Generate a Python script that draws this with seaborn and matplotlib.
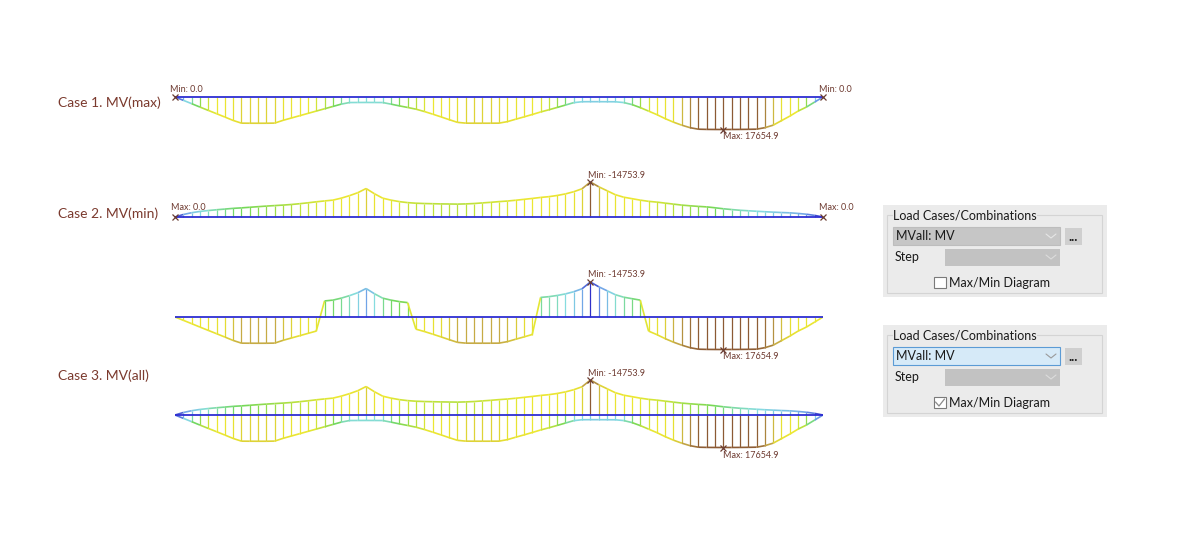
import numpy as np
import matplotlib
matplotlib.use("Agg")
import matplotlib.pyplot as plt
import seaborn as sns
from matplotlib.colors import LinearSegmentedColormap
from matplotlib.collections import LineCollection
from matplotlib.patches import Rectangle

sns.set_theme(style="white")
plt.rcParams['font.family'] = ['Lato', 'DejaVu Sans']


# 1. DATA

# stations along the beam (one hatch line per station)
station = list(range(79))

# Case 1. MV(max) - sagging envelope
mv_max = [0, 1800, 3610, 5470, 7270, 9070, 10880, 12740, 14210, 14240,
          14260, 14250, 14180, 12680, 11420, 10170, 8910, 7650, 6400, 5140,
          3880, 3010, 2980, 2960, 2980, 3010, 3880, 4810, 5680, 6610,
          7870, 9290, 10770, 12300, 13770, 14200, 14230, 14240, 14230, 14200,
          13390, 12080, 10820, 9510, 8150, 6940, 5680, 4370, 3060, 2570,
          2540, 2550, 2570, 2600, 3010, 4100, 5740, 7650, 9570, 11750,
          13670, 15300, 16670, 17490, 17600, 17640, 17654.9, 17640, 17610, 17560,
          17480, 16670, 15300, 12850, 10390, 7650, 5470, 2730, 0]

# Case 2. MV(min) - hogging envelope
mv_min = [0, -1050, -1800, -2340, -2720, -3050, -3340, -3640, -3850, -4100,
          -4350, -4600, -4810, -5020, -5270, -5600, -5980, -6400, -6770, -7110,
          -7940, -8990, -10240, -12000, -9820, -7940, -7110, -6480, -6060, -5810,
          -5680, -5600, -5520, -5480, -5430, -5520, -5680, -5940, -6190, -6480,
          -6730, -7060, -7440, -7820, -8240, -8570, -9070, -9740, -10660, -11910,
          -14753.9, -12750, -11080, -9400, -8360, -7730, -7110, -6600, -6270, -5850,
          -5430, -5020, -4720, -4470, -4260, -3890, -3470, -3140, -2840, -2630,
          -2420, -2220, -2050, -1880, -1760, -1500, -1170, -670, 0]

case_labels = ["Case 1. MV(max)", "Case 2. MV(min)", "Case 3. MV(all)"]
combo_text = "MVall: MV"

x = np.array(station, dtype=float)
vmax = np.array(mv_max, dtype=float)
vmin = np.array(mv_min, dtype=float)
# single diagram: the governing value at each station
vall = np.where(np.abs(vmax) >= np.abs(vmin), vmax, vmin)

pmax = vmax.max()
nmax = -vmin.min()
i_max = int(vmax.argmax())
i_min = int(vmin.argmin())


# 2. STYLE

cmap = LinearSegmentedColormap.from_list("mv", [
    (0.00, '#3030c8'), (0.08, '#6f9fe8'), (0.16, '#86dce0'), (0.26, '#72d85a'),
    (0.38, '#bfe23c'), (0.50, '#ece832'), (0.78, '#e6e032'), (0.90, '#c4a846'),
    (1.00, '#8c5a34')])

BLUE = '#2e2ed2'
LBL = '#6e3a30'
P_PX, N_PX = 32.5, 35.0   # drawn depth of max / min in pixels


def fwd(y):
    y = np.asarray(y, dtype=float)
    return np.where(y >= 0, y / pmax * P_PX, y / nmax * N_PX)


def inv(z):
    z = np.asarray(z, dtype=float)
    return np.where(z >= 0, z / P_PX * pmax, z / N_PX * nmax)


fig = plt.figure(figsize=(12, 5.4), dpi=100)

# background axes in pixel units (labels + UI panels)
ax_ui = fig.add_axes([0, 0, 1, 1], zorder=-1)
ax_ui.set_xlim(0, 1200)
ax_ui.set_ylim(540, 0)
ax_ui.axis('off')


def diagram_axes(base):
    ax = fig.add_axes([175 / 1200, 1 - (base + 45) / 540, 648 / 1200, 90 / 540])
    ax.set_xlim(0, 78)
    ax.set_yscale('function', functions=(fwd, inv))
    ax.set_ylim(float(inv(45)), float(inv(-45)))
    ax.axis('off')
    ax.patch.set_alpha(0)
    return ax


def draw_part(ax, vals, cvals):
    ax.vlines(x, 0, vals, colors=cmap(cvals), lw=0.9, zorder=2)
    pts = np.column_stack([x, vals])
    segs = np.stack([pts[:-1], pts[1:]], axis=1)
    ax.add_collection(LineCollection(segs, colors=cmap((cvals[:-1] + cvals[1:]) / 2),
                                     lw=1.2, zorder=3))


def mark(ax, i, vals, text, dx, dy):
    ax.plot(x[i], vals[i], marker='x', ms=4.5, mew=0.9, color='#6a3c32',
            ls='none', clip_on=False, zorder=5)
    ax.annotate(text, (x[i], vals[i]), xytext=(dx, dy), textcoords='offset pixels',
                fontsize=6.5, color=LBL, ha='left', va='center')


# 3. DIAGRAMS

# Case 1 - max
ax1 = diagram_axes(97)
draw_part(ax1, vmax, vmax / pmax)
ax1.axhline(0, color=BLUE, lw=1.3, zorder=4)
mark(ax1, 0, vmax, "Min: 0.0", -5, 8)
mark(ax1, 78, vmax, "Min: 0.0", -4, 8)
mark(ax1, i_max, vmax, "Max: %.1f" % pmax, 0, -7)

# Case 2 - min
ax2 = diagram_axes(217)
draw_part(ax2, vmin, np.abs(vmin) / nmax)
ax2.axhline(0, color=BLUE, lw=1.3, zorder=4)
mark(ax2, 0, vmin, "Max: 0.0", -4, 10)
mark(ax2, 78, vmin, "Max: 0.0", -4, 10)
mark(ax2, i_min, vmin, "Min: %.1f" % -nmax, -2, 7)

# governing diagram: hogging in blues, sagging in yellows
ax3 = diagram_axes(317)
c3 = np.where(vall >= 0, 0.45 + 0.55 * vall / pmax, 0.48 * (1 + vall / nmax))
draw_part(ax3, vall, c3)
ax3.axhline(0, color=BLUE, lw=1.3, zorder=4)
mark(ax3, i_min, vall, "Min: %.1f" % -nmax, -2, 8)
mark(ax3, i_max, vall, "Max: %.1f" % pmax, 0, -7)

# Case 3 - all (max/min envelope)
ax4 = diagram_axes(415)
draw_part(ax4, vmax, vmax / pmax)
draw_part(ax4, vmin, np.abs(vmin) / nmax)
ax4.axhline(0, color=BLUE, lw=1.3, zorder=4)
mark(ax4, i_min, vmin, "Min: %.1f" % -nmax, -2, 7)
mark(ax4, i_max, vmax, "Max: %.1f" % pmax, 0, -8)

for lbl, yy in zip(case_labels, [103, 214, 376]):
    ax_ui.text(58, yy, lbl, fontsize=10, color='#7b3a2e', ha='left', va='center')


# 4. UI PANELS

def panel(top, active):
    ax = ax_ui
    ax.add_patch(Rectangle((883, top), 224, 92, fc='#ebebeb', ec='none'))
    ax.add_patch(Rectangle((887, top + 10), 215, 78, fc='none', ec='#d4d4d4', lw=0.8))
    ax.text(893, top + 10, "Load Cases/Combinations", fontsize=9, color='#1a1a1a',
            ha='left', va='center', bbox=dict(fc='#ebebeb', ec='none', pad=0.4))
    fc = '#d6eaf8' if active else '#c6c6c6'
    ec = '#5b9bd5' if active else '#bdbdbd'
    ax.add_patch(Rectangle((893, top + 22), 167, 18, fc=fc, ec=ec, lw=0.8))
    ax.text(896, top + 31, combo_text, fontsize=9, color='#1a1a1a', ha='left', va='center')
    chev = '#9a9a9a' if active else '#e6e6e6'
    ax.plot([1046, 1051, 1056], [top + 29, top + 33, top + 29], color=chev, lw=0.8)
    ax.add_patch(Rectangle((1065, top + 23), 17, 17, fc='#cfcfcf', ec='none'))
    ax.text(1073.5, top + 32, "...", fontsize=9.5, fontweight='bold', color='#1a1a1a',
            ha='center', va='center')
    ax.text(895, top + 52, "Step", fontsize=9, color='#1a1a1a', ha='left', va='center')
    ax.add_patch(Rectangle((945, top + 44), 115, 17, fc='#c2c2c2', ec='none'))
    ax.plot([1046, 1051, 1056], [top + 50, top + 54, top + 50], color='#dcdcdc', lw=0.8)
    ax.add_patch(Rectangle((934, top + 72), 12, 11, fc='white', ec='#7a7a7a', lw=0.8))
    if active:
        ax.plot([935.5, 939, 944.5], [top + 77, top + 81, top + 74], color='#8a8a8a', lw=0.9)
    ax.text(949, top + 78, "Max/Min Diagram", fontsize=9, color='#1a1a1a',
            ha='left', va='center')


panel(205, False)
panel(325, True)

fig.savefig("out.png", dpi=100)
